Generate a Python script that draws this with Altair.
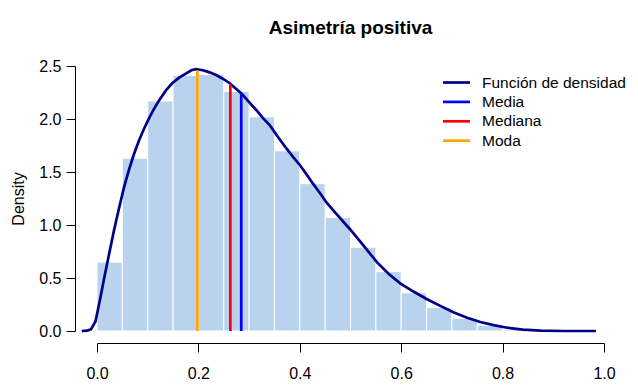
import altair as alt
import pandas as pd

# Histogram bins (width 0.05) and densities
bin_start = [0.00, 0.05, 0.10, 0.15, 0.20, 0.25, 0.30, 0.35, 0.40, 0.45,
             0.50, 0.55, 0.60, 0.65, 0.70, 0.75, 0.80]
bin_density = [0.65, 1.63, 2.17, 2.41, 2.42, 2.26, 2.02, 1.70, 1.39, 1.07,
               0.79, 0.56, 0.36, 0.22, 0.12, 0.053, 0.015]

# Kernel density curve
curve_x = [-0.030, -0.020, -0.012, -0.003, 0.007, 0.015, 0.024, 0.034, 0.044, 0.053,
           0.063, 0.073, 0.083, 0.093, 0.103, 0.113, 0.123, 0.136, 0.149, 0.162,
           0.176, 0.186, 0.195, 0.209, 0.222, 0.235, 0.248, 0.261, 0.273, 0.285,
           0.300, 0.314, 0.327, 0.341, 0.357, 0.374, 0.387, 0.400, 0.413, 0.426,
           0.440, 0.453, 0.473, 0.499, 0.525, 0.552, 0.575, 0.598, 0.625, 0.651,
           0.678, 0.704, 0.730, 0.756, 0.782, 0.809, 0.840, 0.875, 0.920, 0.984]
curve_y = [0.000, 0.003, 0.016, 0.090, 0.320, 0.520, 0.730, 0.960, 1.170, 1.350,
           1.520, 1.670, 1.800, 1.910, 2.010, 2.100, 2.180, 2.270, 2.340, 2.390,
           2.430, 2.460, 2.470, 2.460, 2.440, 2.415, 2.380, 2.340, 2.290, 2.240,
           2.160, 2.085, 2.010, 1.940, 1.830, 1.720, 1.640, 1.566, 1.480, 1.390,
           1.300, 1.210, 1.100, 0.960, 0.810, 0.650, 0.540, 0.450, 0.370, 0.300,
           0.235, 0.175, 0.125, 0.085, 0.055, 0.031, 0.013, 0.003, 0.000, 0.000]

# Central tendency markers
stat_names = ["Media", "Mediana", "Moda"]
stat_x = [0.2845, 0.263, 0.198]
stat_y = [2.24, 2.33, 2.46]

series_names = ["Función de densidad", "Media", "Mediana", "Moda"]
series_colors = ["#00008B", "#0000FF", "#FF0000", "#FFA500"]

bins = pd.DataFrame({"x0": bin_start,
                     "x1": [b + 0.05 for b in bin_start],
                     "d": bin_density})
curve = pd.DataFrame({"x": curve_x, "y": curve_y,
                      "serie": ["Función de densidad"] * len(curve_x)})
stats = pd.DataFrame({"x": stat_x, "y": stat_y, "serie": stat_names})

FONT = "Liberation Sans"

xscale = alt.Scale(domain=[0, 1], nice=False, zero=False)
yscale = alt.Scale(domain=[0, 2.5], nice=False)
color = alt.Color("serie:N",
                  scale=alt.Scale(domain=series_names, range=series_colors),
                  sort=series_names,
                  legend=alt.Legend(title=None, orient="none", legendX=349, legendY=6,
                                    symbolType="M-1.5,0H1.5", symbolSize=324,
                                    symbolStrokeWidth=2.7, labelFontSize=15.5,
                                    labelFont=FONT, labelColor="black",
                                    labelOffset=15, rowPadding=0.4, padding=0))

xaxis = alt.Axis(values=[0, 0.2, 0.4, 0.6, 0.8, 1.0], format=".1f", title=None,
                 offset=12, tickSize=9, labelPadding=13, labelFlush=False, grid=False)
yaxis = alt.Axis(values=[0, 0.5, 1.0, 1.5, 2.0, 2.5], format=".1f", title="Density",
                 offset=22, tickSize=9, labelPadding=5, labelFlush=False, grid=False,
                 titlePadding=12)

bars = alt.Chart(bins).mark_bar(color="#B9D3EE", stroke="white", strokeWidth=1).encode(
    x=alt.X("x0:Q", scale=xscale, axis=xaxis),
    x2="x1:Q",
    y=alt.Y("d:Q", scale=yscale, axis=yaxis),
    y2=alt.datum(0),
)

line = alt.Chart(curve).mark_line(strokeWidth=2.7).encode(
    x=alt.X("x:Q", scale=xscale),
    y=alt.Y("y:Q", scale=yscale),
    color=color,
)

rules = alt.Chart(stats).mark_rule(strokeWidth=2.7).encode(
    x=alt.X("x:Q", scale=xscale),
    y=alt.Y("y:Q", scale=yscale),
    y2=alt.datum(0),
    color=color,
)

chart = alt.layer(bars, line, rules).properties(
    width=507, height=265,
    title=alt.TitleParams("Asimetría positiva", fontSize=19, fontWeight="bold",
                          font=FONT, anchor="middle", offset=20, color="black"),
    autosize=alt.AutoSizeParams(type="none"),
    padding={"left": 89, "top": 58, "right": 26, "bottom": 52},
).configure_view(strokeWidth=0).configure_axis(
    labelFont=FONT, labelFontSize=16, labelColor="black",
    titleFont=FONT, titleFontSize=16, titleColor="black", titleFontWeight="normal",
    domainColor="black", tickColor="black", domainWidth=1, tickWidth=1,
).configure_axisY(labelAngle=0)

chart.save("out.html", embed_options={"renderer": "svg", "actions": False})
